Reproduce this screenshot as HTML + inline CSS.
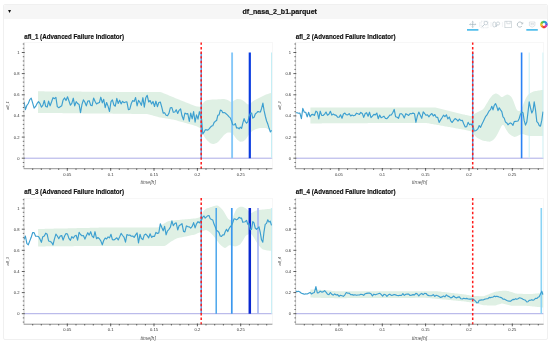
<!DOCTYPE html>
<html><head><meta charset="utf-8"><title>df_nasa_2_b1.parquet</title>
<style>
html,body{margin:0;padding:0;background:#fff;}
body{width:550px;height:345px;overflow:hidden;position:relative;font-family:"Liberation Sans",Arial,sans-serif;}
.card{position:absolute;left:3.2px;top:3.8px;width:544.6px;height:336.4px;border:0.6px solid #f0f0f0;border-radius:2px;box-sizing:border-box;background:#fff;}
.hdr{position:absolute;left:0;top:0;right:0;height:14.4px;background:#f6f6f6;border-radius:2px 2px 0 0;}
svg{position:absolute;left:0;top:0;}
</style></head><body>
<div class="card"><div class="hdr"></div></div>
<svg width="550" height="345" viewBox="0 0 550 345">
<text x="7" y="13.2" font-family="Liberation Sans, Arial, sans-serif" font-size="5.2" fill="#111">&#9660;</text>
<text x="279.7" y="13.6" text-anchor="middle" font-family="Liberation Sans, Arial, sans-serif" font-weight="bold" font-size="7.05" fill="#111" stroke="#111" stroke-width="0.2">df_nasa_2_b1.parquet</text>
<g stroke="#93a7b3" stroke-width="0.6" fill="none"><path d="M469.8 24.4H475.6M472.7 21.5V27.3"/><path d="M471.8 22.2L472.7 21.3L473.6 22.2M471.8 26.6L472.7 27.5L473.6 26.6M470.5 23.5L469.6 24.4L470.5 25.3M474.9 23.5L475.8 24.4L474.9 25.3" stroke-width="0.5"/></g>
<g stroke="#a9b8c1" stroke-width="0.55" fill="none"><rect x="481" y="21.2" width="7" height="6.6" stroke-dasharray="0.9 0.7" stroke-width="0.35"/><circle cx="485.8" cy="23.1" r="1.8"/><path d="M484.5 24.4L482 26.9" stroke-width="0.8"/></g>
<g stroke="#a9b8c1" stroke-width="0.55" fill="none"><rect x="492.9" y="22" width="2.8" height="5" rx="1.4"/><circle cx="498" cy="23.5" r="1.6"/><path d="M497 24.8L495.9 27" stroke-width="0.8"/></g>
<g stroke="#bcc6cc" stroke-width="0.6" fill="none"><rect x="504.9" y="21.2" width="6.4" height="6.5"/><path d="M506.8 21.2V23.7H510.2V21.2" stroke-width="0.5"/></g>
<g stroke="#aab6bd" stroke-width="0.8" fill="none"><path d="M522.4 23.9A2.6 2.6 0 1 0 521.9 26.2"/><path d="M522.8 22.1V24.0H521.0" stroke-width="0.5"/></g>
<g stroke="#c0c9cf" stroke-width="0.5" fill="none"><path d="M529.4 22H534.9V25.6L532.15 27.2L529.4 25.6Z"/><rect x="531" y="23.2" width="2.3" height="1.7" stroke-width="0.45"/></g>
<path d="M542.8 22.09A2.65 2.65 0 0 1 545.0 22.09" stroke="#27b8a2" stroke-width="2.3" fill="none"/>
<path d="M544.83 22.02A2.65 2.65 0 0 1 546.38 23.57" stroke="#2490e3" stroke-width="2.3" fill="none"/>
<path d="M546.31 23.4A2.65 2.65 0 0 1 546.31 25.6" stroke="#5a55d8" stroke-width="2.3" fill="none"/>
<path d="M546.38 25.43A2.65 2.65 0 0 1 544.83 26.98" stroke="#e0309c" stroke-width="2.3" fill="none"/>
<path d="M545.0 26.91A2.65 2.65 0 0 1 542.8 26.91" stroke="#ea3338" stroke-width="2.3" fill="none"/>
<path d="M542.97 26.98A2.65 2.65 0 0 1 541.42 25.43" stroke="#f47e20" stroke-width="2.3" fill="none"/>
<path d="M541.49 25.6A2.65 2.65 0 0 1 541.49 23.4" stroke="#f5c71f" stroke-width="2.3" fill="none"/>
<path d="M541.42 23.57A2.65 2.65 0 0 1 542.97 22.02" stroke="#6cc233" stroke-width="2.3" fill="none"/>
<rect x="467" y="29.2" width="11.4" height="1.4" fill="#29aee6"/>
<rect x="526.3" y="29.2" width="11.5" height="1.4" fill="#29aee6"/>
<line x1="479.5" x2="479.5" y1="22" y2="27" stroke="#e2e7ea" stroke-width="0.5"/>
<line x1="491.0" x2="491.0" y1="22" y2="27" stroke="#e2e7ea" stroke-width="0.5"/>
<line x1="502.4" x2="502.4" y1="22" y2="27" stroke="#e2e7ea" stroke-width="0.5"/>
<g>
<rect x="24" y="42.6" width="248.4" height="126.1" fill="#fff" stroke="#ececec" stroke-width="0.4"/>
<clipPath id="c1"><rect x="24" y="42.6" width="248.4" height="126.1"/></clipPath>
<g clip-path="url(#c1)">
<path d="M38 91.3 L39 91.3 L40 91.3 L41 91.3 L42 91.3 L43 91.3 L44 91.3 L45 91.4 L46 91.4 L47 91.4 L48 91.4 L49 91.4 L50 91.4 L51 91.4 L52 91.4 L53 91.4 L54 91.4 L55 91.4 L56 91.4 L57 91.5 L58 91.5 L59 91.5 L60 91.5 L61 91.5 L62 91.5 L63 91.5 L64 91.5 L65 91.5 L66 91.5 L67 91.5 L68 91.5 L69 91.5 L70 91.6 L71 91.6 L72 91.6 L73 91.6 L74 91.6 L75 91.6 L76 91.6 L77 91.6 L78 91.6 L79 91.6 L80 91.6 L81 91.6 L82 91.7 L83 91.7 L84 91.7 L85 91.7 L86 91.7 L87 91.7 L88 91.7 L89 91.7 L90 91.7 L91 91.7 L92 91.7 L93 91.7 L94 91.8 L95 91.8 L96 91.8 L97 91.8 L98 91.8 L99 91.8 L100 91.8 L101 91.8 L102 91.8 L103 91.8 L104 91.8 L105 91.8 L106 91.8 L107 91.8 L108 91.8 L109 91.8 L110 91.8 L111 91.8 L112 91.8 L113 91.8 L114 91.8 L115 91.8 L116 91.9 L117 91.9 L118 91.9 L119 91.9 L120 91.9 L121 91.9 L122 91.9 L123 91.9 L124 91.9 L125 91.9 L126 91.9 L127 91.9 L128 91.9 L129 91.9 L130 91.9 L131 91.9 L132 91.9 L133 91.9 L134 91.9 L135 91.9 L136 91.9 L137 91.9 L138 91.9 L139 91.9 L140 91.9 L141 91.9 L142 91.9 L143 91.9 L144 91.9 L145 91.9 L146 92 L147 92 L148 92 L149 92 L150 92 L151 92 L152 92 L153 92 L154 92 L155 92 L156 92 L157 92 L158 92 L159 92 L160 92 L161 92.2 L162 92.5 L163 93 L164 93.4 L165 93.8 L166 94.2 L167 94.6 L168 95 L169 95.5 L170 95.9 L171 96.3 L172 96.7 L173 97.1 L174 97.5 L175 98 L176 98.4 L177 98.8 L178 99.2 L179 99.6 L180 100 L181 100.4 L182 100.8 L183 101.2 L184 101.6 L185 102 L186 102.4 L187 102.8 L188 103.2 L189 103.6 L190 104 L191 104.4 L192 104.8 L193 105.2 L194 105.6 L195 105.9 L196 106.2 L197 106.4 L198 106.6 L199 106.8 L200 106.8 L201 106 L202 104.6 L203 103.2 L204 102.1 L205 101.2 L206 100.5 L207 100.2 L208 100 L209 99.9 L210 99.8 L211 99.7 L212 99.6 L213 99.5 L214 99.5 L215 99.4 L216 99.4 L217 99.4 L218 99.3 L219 99.2 L220 99.2 L221 99.2 L222 99.1 L223 99.1 L224 99.1 L225 99.2 L226 99.5 L227 99.8 L228 100.3 L229 100.8 L230 101.4 L231 101.9 L232 102 L233 101.4 L234 100.6 L235 99.9 L236 99.4 L237 99.1 L238 99.1 L239 99.2 L240 99.2 L241 99.4 L242 99.9 L243 100.6 L244 101.2 L245 102 L246 102.9 L247 103.9 L248 104.4 L249 104.3 L250 103.7 L251 102.9 L252 102 L253 101.2 L254 100.6 L255 100.1 L256 99.6 L257 99.1 L258 98.6 L259 98.1 L260 97.6 L261 97.1 L262 96.6 L263 96 L264 95.5 L265 95 L266 94.6 L267 94.3 L268 93.9 L269 93.6 L270 93.2 L271 92.9 L272 92.7 L272 133 L271 132.2 L270 131.1 L269 130.1 L268 129.3 L267 128.5 L266 128.1 L265 128 L264 128 L263 128 L262 128 L261 128 L260 128 L259 128.2 L258 128.5 L257 128.7 L256 129 L255 129.4 L254 129.9 L253 130.6 L252 131.3 L251 132.2 L250 133.2 L249 134.5 L248 135.9 L247 137.5 L246 138.9 L245 140 L244 140.8 L243 141.4 L242 141.6 L241 141.8 L240 141.7 L239 141.1 L238 140.2 L237 139.4 L236 138.3 L235 137 L234 135.5 L233 134.2 L232 133.4 L231 132.8 L230 132.5 L229 132.4 L228 132.5 L227 132.8 L226 133.5 L225 134.2 L224 135.1 L223 136.2 L222 137.4 L221 138.6 L220 139.8 L219 140.9 L218 141.9 L217 142.8 L216 143.3 L215 143.6 L214 143.9 L213 144 L212 143.8 L211 143.4 L210 142.9 L209 142.1 L208 141.2 L207 140.3 L206 139.1 L205 137.7 L204 136.1 L203 134.2 L202 131.9 L201 129.6 L200 128.1 L199 127.4 L198 127 L197 126.5 L196 126.1 L195 125.7 L194 125.4 L193 125.1 L192 124.8 L191 124.6 L190 124.3 L189 124 L188 123.7 L187 123.4 L186 123.1 L185 122.9 L184 122.6 L183 122.3 L182 122 L181 121.7 L180 121.4 L179 121.2 L178 120.9 L177 120.6 L176 120.3 L175 120 L174 119.8 L173 119.6 L172 119.5 L171 119.3 L170 119.1 L169 119 L168 118.8 L167 118.6 L166 118.5 L165 118.3 L164 118.1 L163 118 L162 117.8 L161 117.6 L160 117.4 L159 117.2 L158 116.9 L157 116.6 L156 116.4 L155 116.1 L154 115.9 L153 115.6 L152 115.3 L151 115.1 L150 114.8 L149 114.6 L148 114.3 L147 114.1 L146 114 L145 114 L144 114 L143 114 L142 114 L141 113.9 L140 113.9 L139 113.9 L138 113.9 L137 113.9 L136 113.9 L135 113.9 L134 113.9 L133 113.9 L132 113.9 L131 113.8 L130 113.8 L129 113.8 L128 113.8 L127 113.8 L126 113.8 L125 113.8 L124 113.8 L123 113.8 L122 113.7 L121 113.7 L120 113.7 L119 113.7 L118 113.7 L117 113.7 L116 113.7 L115 113.7 L114 113.7 L113 113.7 L112 113.6 L111 113.6 L110 113.6 L109 113.6 L108 113.6 L107 113.6 L106 113.6 L105 113.6 L104 113.6 L103 113.6 L102 113.5 L101 113.5 L100 113.5 L99 113.5 L98 113.5 L97 113.5 L96 113.5 L95 113.5 L94 113.5 L93 113.5 L92 113.4 L91 113.4 L90 113.4 L89 113.4 L88 113.4 L87 113.4 L86 113.4 L85 113.4 L84 113.4 L83 113.4 L82 113.3 L81 113.3 L80 113.3 L79 113.3 L78 113.3 L77 113.3 L76 113.3 L75 113.3 L74 113.3 L73 113.3 L72 113.2 L71 113.2 L70 113.2 L69 113.2 L68 113.2 L67 113.2 L66 113.2 L65 113.2 L64 113.2 L63 113.2 L62 113.1 L61 113.1 L60 113.1 L59 113.1 L58 113.1 L57 113.1 L56 113.1 L55 113.1 L54 113.1 L53 113.1 L52 113 L51 113 L50 113 L49 113 L48 113 L47 113 L46 113 L45 113 L44 113 L43 113 L42 112.9 L41 112.9 L40 112.9 L39 112.9 L38 112.9Z" fill="#dff0e4"/>
<line x1="24" x2="272.4" y1="158.2" y2="158.2" stroke="#9c9ce2" stroke-width="0.85"/>
<line x1="201.2" x2="201.2" y1="52.5" y2="158.2" stroke="#4a8fe0" stroke-width="1.3"/>
<line x1="232.1" x2="232.1" y1="52.5" y2="158.2" stroke="#86c8f8" stroke-width="1.9"/>
<line x1="249.8" x2="249.8" y1="52.5" y2="158.2" stroke="#0a3ce0" stroke-width="2.2"/>
<line x1="271.6" x2="271.6" y1="52.5" y2="158.2" stroke="#c5eef5" stroke-width="1.2"/>
<path d="M24 101.8 L25.4 109.6 L26.9 105.3 L28.3 103.5 L29.8 99.6 L31.2 98.2 L32.7 103.2 L34.1 108.2 L35.6 106.4 L37 103.7 L38.5 101.6 L39.9 103.4 L41.4 107.1 L42.8 105.4 L44.3 100.5 L45.7 106.4 L47.2 107.1 L48.6 101.1 L50.1 105.8 L51.5 102 L53 97.6 L54.4 98.7 L55.9 97.3 L57.3 106.6 L58.8 107.7 L60.2 106.8 L61.7 105.8 L63.1 100 L64.6 97.9 L66 100.6 L67.5 96.8 L68.9 100.8 L70.4 105.2 L71.8 103.4 L73.3 98.2 L74.7 105.9 L76.2 101.7 L77.6 103.5 L79.1 104.5 L80.5 112.7 L82 104.3 L83.4 99.9 L84.9 102.2 L86.3 105.9 L87.8 101 L89.2 100.7 L90.7 105.2 L92.1 105.7 L93.6 98 L95 101.2 L96.5 104 L97.9 103.1 L99.4 102.5 L100.8 97.2 L102.3 102.9 L103.7 99.3 L105.2 107.6 L106.6 102.5 L108.1 106.4 L109.5 111.5 L111 101.6 L112.4 99.9 L113.9 105 L115.3 106.2 L116.8 98.4 L118.2 103.5 L119.7 100.2 L121.1 103.9 L122.6 101.3 L124 102.7 L125.5 102 L126.9 101.9 L128.4 109.7 L129.8 109.2 L131.3 103.5 L132.7 100.6 L134.2 101.4 L135.6 97.5 L137.1 105.9 L138.5 100.3 L140 102.4 L141.4 105.3 L142.9 97.7 L144.3 107.2 L145.8 97.7 L147.2 95.3 L148.7 102 L150.1 100.5 L151.6 104 L153 101.4 L154.5 106.5 L155.9 101.2 L157.4 106.7 L158.8 102.5 L160.3 102 L161.7 106.8 L163.2 113.2 L164.6 112.7 L166.1 115.2 L167.5 115.7 L169 113.1 L170.4 107.7 L171.9 107.6 L173.3 112.3 L174.8 112 L176.2 109.7 L177.7 113.5 L179.1 110.3 L180.6 108.9 L182 115.8 L183.5 119.8 L184.9 113 L186.4 113.9 L187.8 113.6 L189.3 121.5 L190.7 113.1 L192.2 118.8 L193.6 111.5 L195.1 122.1 L196.5 114.9 L198 119.1 L199.4 111.7 L201.6 119.3 L202.8 133.9 L204.1 132.1 L205.3 129.7 L206.6 129.9 L207.8 130.1 L209.1 128.9 L210.3 127.4 L211.6 126 L212.8 125.7 L214.1 122.5 L215.3 121.3 L216.6 120.5 L217.8 115.3 L219.1 114.9 L220.3 110.1 L221.6 110.5 L222.8 112.7 L224.1 112.5 L225.3 113.1 L226.6 114.2 L227.8 115.3 L229.1 116.9 L230.3 117.9 L231.6 121.3 L232.8 124.7 L234.1 125 L235.3 123.5 L236.6 128 L237.8 127.8 L239.1 128.8 L240.3 127.1 L241.6 128.4 L242.8 123.1 L244.1 118.6 L245.3 121.7 L246.6 123.2 L247.8 121.9 L249.1 116.4 L250.3 113.4 L251.6 113 L252.8 118.1 L254.1 117.3 L255.3 114 L256.6 112.8 L257.9 111.5 L259.1 111.9 L260.4 112 L261.6 108.4 L262.9 103.1 L264.1 110.7 L265.4 116.5 L266.6 121 L267.9 124.3 L269.1 128.3 L270.4 132 L271.6 130.4" fill="none" stroke="#3c9fd0" stroke-width="1.15" stroke-linejoin="round"/>
</g>
<line x1="201.2" x2="201.2" y1="42.4" y2="169.7" stroke="#ff1a1a" stroke-width="1.5" stroke-dasharray="2.4 2.2"/>
<g fill="none">
<path d="M24 42.6V168.7" stroke="#a0a0a0" stroke-width="0.5"/>
<path d="M23.7 168.7H272.4" stroke="#6a6a6a" stroke-width="0.7"/>
<path d="M21.8 158.2H24.7M21.8 137.1H24.7M21.8 115.9H24.7M21.8 94.8H24.7M21.8 73.6H24.7M21.8 52.5H24.7M67.3 168V170.8M110.7 168V170.8M154 168V170.8M197.4 168V170.8M240.7 168V170.8" stroke="#333" stroke-width="0.8"/>
<path d="M22.8 166.7H24.2M22.8 162.5H24.2M22.8 154H24.2M22.8 149.8H24.2M22.8 145.6H24.2M22.8 141.3H24.2M22.8 132.9H24.2M22.8 128.6H24.2M22.8 124.4H24.2M22.8 120.2H24.2M22.8 111.7H24.2M22.8 107.5H24.2M22.8 103.3H24.2M22.8 99H24.2M22.8 90.6H24.2M22.8 86.3H24.2M22.8 82.1H24.2M22.8 77.9H24.2M22.8 69.4H24.2M22.8 65.2H24.2M22.8 61H24.2M22.8 56.7H24.2M22.8 48.3H24.2M22.8 44H24.2M32.7 168.5V170M41.3 168.5V170M50 168.5V170M58.7 168.5V170M76 168.5V170M84.7 168.5V170M93.3 168.5V170M102 168.5V170M119.3 168.5V170M128 168.5V170M136.7 168.5V170M145.4 168.5V170M162.7 168.5V170M171.4 168.5V170M180 168.5V170M188.7 168.5V170M206 168.5V170M214.7 168.5V170M223.4 168.5V170M232 168.5V170M249.4 168.5V170M258 168.5V170M266.7 168.5V170" stroke="#333" stroke-width="0.7"/>
</g>
<g font-family="Liberation Sans, Arial, sans-serif" font-size="4.1" fill="#333">
<text x="19.5" y="159.7" text-anchor="end">0</text>
<text x="19.5" y="138.5" text-anchor="end">0.2</text>
<text x="19.5" y="117.4" text-anchor="end">0.4</text>
<text x="19.5" y="96.3" text-anchor="end">0.6</text>
<text x="19.5" y="75.1" text-anchor="end">0.8</text>
<text x="19.5" y="54" text-anchor="end">1</text>
<text x="67.3" y="175.9" text-anchor="middle">0.05</text>
<text x="110.7" y="175.9" text-anchor="middle">0.1</text>
<text x="154" y="175.9" text-anchor="middle">0.15</text>
<text x="197.4" y="175.9" text-anchor="middle">0.2</text>
<text x="240.7" y="175.9" text-anchor="middle">0.25</text>
</g>
<text x="148.2" y="184.1" text-anchor="middle" font-family="Liberation Sans, Arial, sans-serif" font-style="italic" font-size="5.1" fill="#555">time[h]</text>
<text transform="translate(9.4 105.6) rotate(-90)" text-anchor="middle" font-family="Liberation Sans, Arial, sans-serif" font-style="italic" font-size="3.9" fill="#555">afl_1</text>
<text x="24.2" y="38.7" font-family="Liberation Sans, Arial, sans-serif" font-weight="bold" font-size="6.45" textLength="99.8" lengthAdjust="spacingAndGlyphs" fill="#111" stroke="#111" stroke-width="0.16">afl_1 (Advanced Failure Indicator)</text>
</g>
<g>
<rect x="295.6" y="42.6" width="248" height="126.1" fill="#fff" stroke="#ececec" stroke-width="0.4"/>
<clipPath id="c2"><rect x="295.6" y="42.6" width="248" height="126.1"/></clipPath>
<g clip-path="url(#c2)">
<path d="M310.4 107.4 L311.4 107.4 L312.4 107.4 L313.4 107.4 L314.4 107.4 L315.4 107.4 L316.4 107.4 L317.4 107.4 L318.4 107.4 L319.4 107.4 L320.4 107.4 L321.4 107.4 L322.4 107.4 L323.4 107.4 L324.4 107.4 L325.4 107.4 L326.4 107.4 L327.4 107.4 L328.4 107.4 L329.4 107.4 L330.4 107.4 L331.4 107.4 L332.4 107.4 L333.4 107.4 L334.4 107.4 L335.4 107.4 L336.4 107.4 L337.4 107.4 L338.4 107.4 L339.4 107.4 L340.4 107.4 L341.4 107.4 L342.4 107.4 L343.4 107.4 L344.4 107.4 L345.4 107.4 L346.4 107.4 L347.4 107.4 L348.4 107.4 L349.4 107.4 L350.4 107.4 L351.4 107.4 L352.4 107.4 L353.4 107.4 L354.4 107.4 L355.4 107.4 L356.4 107.4 L357.4 107.4 L358.4 107.4 L359.4 107.4 L360.4 107.4 L361.4 107.4 L362.4 107.4 L363.4 107.4 L364.4 107.4 L365.4 107.4 L366.4 107.4 L367.4 107.4 L368.4 107.4 L369.4 107.4 L370.4 107.4 L371.4 107.4 L372.4 107.4 L373.4 107.4 L374.4 107.4 L375.4 107.4 L376.4 107.4 L377.4 107.4 L378.4 107.4 L379.4 107.4 L380.4 107.4 L381.4 107.4 L382.4 107.4 L383.4 107.4 L384.4 107.4 L385.4 107.4 L386.4 107.4 L387.4 107.4 L388.4 107.4 L389.4 107.4 L390.4 107.4 L391.4 107.4 L392.4 107.4 L393.4 107.4 L394.4 107.4 L395.4 107.4 L396.4 107.4 L397.4 107.4 L398.4 107.4 L399.4 107.4 L400.4 107.4 L401.4 107.4 L402.4 107.4 L403.4 107.4 L404.4 107.4 L405.4 107.4 L406.4 107.4 L407.4 107.4 L408.4 107.4 L409.4 107.4 L410.4 107.4 L411.4 107.4 L412.4 107.4 L413.4 107.4 L414.4 107.4 L415.4 107.4 L416.4 107.4 L417.4 107.4 L418.4 107.4 L419.4 107.4 L420.4 107.4 L421.4 107.4 L422.4 107.4 L423.4 107.4 L424.4 107.4 L425.4 107.4 L426.4 107.4 L427.4 107.4 L428.4 107.4 L429.4 107.4 L430.4 107.4 L431.4 107.4 L432.4 107.4 L433.4 107.4 L434.4 107.4 L435.4 107.5 L436.4 107.7 L437.4 107.9 L438.4 108.2 L439.4 108.4 L440.4 108.7 L441.4 108.9 L442.4 109.2 L443.4 109.4 L444.4 109.7 L445.4 109.9 L446.4 110.2 L447.4 110.4 L448.4 110.7 L449.4 110.9 L450.4 111.2 L451.4 111.4 L452.4 111.7 L453.4 111.9 L454.4 112.2 L455.4 112.4 L456.4 112.7 L457.4 112.9 L458.4 113.2 L459.4 113.4 L460.4 113.7 L461.4 113.9 L462.4 114.2 L463.4 114.4 L464.4 114.6 L465.4 114.9 L466.4 115.1 L467.4 115.3 L468.4 115.6 L469.4 115.8 L470.4 116 L471.4 116.1 L472.4 115.7 L473.4 114.8 L474.4 113.9 L475.4 113.3 L476.4 112.8 L477.4 112.3 L478.4 111.8 L479.4 111.3 L480.4 110.8 L481.4 110.3 L482.4 109.7 L483.4 108.8 L484.4 107.4 L485.4 105.7 L486.4 104 L487.4 102.4 L488.4 100.7 L489.4 99.1 L490.4 97.7 L491.4 96.4 L492.4 95.3 L493.4 94.4 L494.4 93.9 L495.4 93.6 L496.4 93.6 L497.4 93.9 L498.4 94.5 L499.4 95.3 L500.4 96.3 L501.4 97.1 L502.4 97.1 L503.4 96.4 L504.4 95.7 L505.4 95.2 L506.4 94.8 L507.4 94.6 L508.4 94.8 L509.4 95.3 L510.4 96 L511.4 97 L512.4 98.7 L513.4 101 L514.4 103.8 L515.4 106.6 L516.4 109.1 L517.4 110.6 L518.4 111.1 L519.4 111 L520.4 110.4 L521.4 109.1 L522.4 106.7 L523.4 103.9 L524.4 101.4 L525.4 99.2 L526.4 97.3 L527.4 95.7 L528.4 94.6 L529.4 93.7 L530.4 93 L531.4 92.4 L532.4 92 L533.4 91.6 L534.4 91.3 L535.4 91.1 L536.4 90.9 L537.4 90.8 L538.4 90.6 L539.4 90.4 L540.4 90.2 L541.4 90.1 L542.4 89.9 L543.4 89.8 L543.4 136.1 L542.4 136.1 L541.4 136.1 L540.4 136.1 L539.4 136.1 L538.4 136.1 L537.4 136.1 L536.4 136.1 L535.4 136.1 L534.4 136.1 L533.4 136.1 L532.4 136.1 L531.4 136.1 L530.4 136.1 L529.4 136 L528.4 135.8 L527.4 135.5 L526.4 135.2 L525.4 134.9 L524.4 134.6 L523.4 134.3 L522.4 134.1 L521.4 134 L520.4 134.4 L519.4 134.9 L518.4 135.4 L517.4 135.9 L516.4 136.4 L515.4 136.8 L514.4 137 L513.4 136.6 L512.4 136 L511.4 135.4 L510.4 134.8 L509.4 134.1 L508.4 133.1 L507.4 131.6 L506.4 130 L505.4 128.2 L504.4 126.3 L503.4 124.9 L502.4 124.9 L501.4 126.3 L500.4 128.2 L499.4 130.3 L498.4 132.3 L497.4 134.3 L496.4 136 L495.4 137.5 L494.4 138.8 L493.4 139.8 L492.4 140.5 L491.4 141.1 L490.4 141.6 L489.4 141.7 L488.4 141.6 L487.4 141.4 L486.4 141.3 L485.4 141.1 L484.4 140.9 L483.4 140.7 L482.4 140.4 L481.4 139.9 L480.4 139.4 L479.4 139 L478.4 138.5 L477.4 138 L476.4 137.3 L475.4 136.3 L474.4 135 L473.4 133.5 L472.4 132.3 L471.4 131.5 L470.4 131.1 L469.4 130.9 L468.4 130.7 L467.4 130.4 L466.4 130.2 L465.4 130 L464.4 129.8 L463.4 129.6 L462.4 129.4 L461.4 129.3 L460.4 129.1 L459.4 128.9 L458.4 128.7 L457.4 128.5 L456.4 128.4 L455.4 128.2 L454.4 128 L453.4 127.8 L452.4 127.6 L451.4 127.5 L450.4 127.3 L449.4 127.1 L448.4 126.9 L447.4 126.7 L446.4 126.6 L445.4 126.4 L444.4 126.2 L443.4 126 L442.4 125.8 L441.4 125.7 L440.4 125.5 L439.4 125.3 L438.4 125.1 L437.4 124.9 L436.4 124.8 L435.4 124.6 L434.4 124.4 L433.4 124.2 L432.4 124 L431.4 123.9 L430.4 123.7 L429.4 123.5 L428.4 123.3 L427.4 123.2 L426.4 123 L425.4 122.9 L424.4 122.9 L423.4 122.9 L422.4 122.9 L421.4 122.9 L420.4 122.9 L419.4 122.9 L418.4 122.9 L417.4 122.9 L416.4 122.9 L415.4 122.9 L414.4 123 L413.4 123 L412.4 123 L411.4 123 L410.4 123 L409.4 123 L408.4 123 L407.4 123 L406.4 123 L405.4 123 L404.4 123 L403.4 123 L402.4 123 L401.4 123 L400.4 123 L399.4 123 L398.4 123 L397.4 123 L396.4 123 L395.4 123 L394.4 123 L393.4 123 L392.4 123 L391.4 123 L390.4 123.1 L389.4 123.1 L388.4 123.1 L387.4 123.1 L386.4 123.1 L385.4 123.1 L384.4 123.1 L383.4 123.1 L382.4 123.1 L381.4 123.1 L380.4 123.1 L379.4 123.1 L378.4 123.1 L377.4 123.1 L376.4 123.1 L375.4 123.1 L374.4 123.1 L373.4 123.1 L372.4 123.1 L371.4 123.1 L370.4 123.1 L369.4 123.1 L368.4 123.1 L367.4 123.2 L366.4 123.2 L365.4 123.2 L364.4 123.2 L363.4 123.2 L362.4 123.2 L361.4 123.2 L360.4 123.2 L359.4 123.2 L358.4 123.2 L357.4 123.2 L356.4 123.2 L355.4 123.2 L354.4 123.2 L353.4 123.2 L352.4 123.2 L351.4 123.2 L350.4 123.2 L349.4 123.2 L348.4 123.2 L347.4 123.2 L346.4 123.2 L345.4 123.2 L344.4 123.3 L343.4 123.3 L342.4 123.3 L341.4 123.3 L340.4 123.3 L339.4 123.3 L338.4 123.3 L337.4 123.3 L336.4 123.3 L335.4 123.3 L334.4 123.3 L333.4 123.3 L332.4 123.3 L331.4 123.3 L330.4 123.3 L329.4 123.3 L328.4 123.3 L327.4 123.3 L326.4 123.3 L325.4 123.3 L324.4 123.3 L323.4 123.3 L322.4 123.3 L321.4 123.4 L320.4 123.4 L319.4 123.4 L318.4 123.4 L317.4 123.4 L316.4 123.4 L315.4 123.4 L314.4 123.4 L313.4 123.4 L312.4 123.4 L311.4 123.4 L310.4 123.4Z" fill="#dff0e4"/>
<line x1="295.6" x2="543.6" y1="158.2" y2="158.2" stroke="#9c9ce2" stroke-width="0.85"/>
<line x1="472.7" x2="472.7" y1="52.5" y2="158.2" stroke="#4a8fe0" stroke-width="1.3"/>
<line x1="521.6" x2="521.6" y1="52.5" y2="158.2" stroke="#2a82f5" stroke-width="1.6"/>
<line x1="529.2" x2="529.2" y1="52.5" y2="158.2" stroke="#c8f0f5" stroke-width="1.0"/>
<line x1="543" x2="543" y1="52.5" y2="158.2" stroke="#c8f0f5" stroke-width="1.0"/>
<path d="M295.6 112.8 L297.1 112.7 L298.5 113.2 L299.9 113.1 L301.4 118.6 L302.8 108.4 L304.3 112.2 L305.7 112.3 L307.2 116.8 L308.6 112.3 L310.1 116.8 L311.5 114.6 L313 114.4 L314.4 115.5 L315.9 111.1 L317.3 112.2 L318.8 118.9 L320.2 111.2 L321.7 115.4 L323.1 115.5 L324.6 114.1 L326 112 L327.5 115.2 L328.9 114.2 L330.4 111.3 L331.8 115.1 L333.3 114 L334.7 114.9 L336.2 115.4 L337.6 117.1 L339.1 117.3 L340.5 114.8 L342 118.2 L343.4 114 L344.9 113 L346.3 114.8 L347.8 114.9 L349.2 113.6 L350.7 116 L352.1 115.1 L353.6 115.8 L355 115.3 L356.5 113.2 L357.9 113.8 L359.4 114.4 L360.8 112.4 L362.3 113.4 L363.7 117.4 L365.2 113.5 L366.6 112.7 L368.1 116.2 L369.5 112.2 L371 117.6 L372.4 116.2 L373.9 114.4 L375.3 114.9 L376.8 113 L378.2 118.7 L379.7 115 L381.1 117.8 L382.6 117.1 L384 116.2 L385.5 118.5 L386.9 118.6 L388.4 117 L389.8 115.1 L391.3 115 L392.7 112.7 L394.2 109.4 L395.6 116.7 L397.1 117.3 L398.5 118.3 L400 113.8 L401.4 113.7 L402.9 115.2 L404.3 117.9 L405.8 113.7 L407.2 114.5 L408.7 115.4 L410.1 113.5 L411.6 113.8 L413 113.1 L414.5 113.7 L415.9 122.3 L417.4 115.9 L418.8 112.1 L420.3 115.3 L421.7 118.3 L423.2 111.9 L424.6 113.5 L426.1 115.3 L427.5 114.8 L429 116.8 L430.4 114.7 L431.9 113.5 L433.3 116 L434.8 114.5 L436.2 117.2 L437.7 117.4 L439.1 122.4 L440.6 119.9 L442 117.8 L443.5 115.2 L444.9 116.6 L446.4 114.8 L447.8 118.9 L449.3 117 L450.7 120.8 L452.2 122.5 L453.6 120.4 L455.1 118.5 L456.5 119.4 L458 121.1 L459.4 119.2 L460.9 120.6 L462.3 120.3 L463.8 124 L465.2 127 L466.7 126.6 L468.1 122.4 L469.6 124.7 L471 123.9 L473 126.5 L474.2 131 L475.5 130.8 L476.8 130 L478 128.6 L479.2 125.5 L480.5 127.4 L481.8 124.5 L483 122.1 L484.2 119.4 L485.5 116.7 L486.8 115.2 L488 113 L489.2 110.8 L490.5 109.6 L491.8 106.3 L493 109.9 L494.2 105.5 L495.5 103.6 L496.8 106.6 L498 110.6 L499.2 107.8 L500.5 109.9 L501.8 111.6 L503 116.9 L504.2 118.1 L505.5 122.1 L506.8 122.9 L508 124.8 L509.2 123.6 L510.5 122.9 L511.8 123.8 L513 125.3 L514.2 121.6 L515.5 121.4 L516.8 121.2 L518 121 L519.2 118.5 L520.5 114.2 L521.8 112.1 L523 112.7 L524.2 120.7 L525.5 125.1 L526.8 122.1 L528 112.1 L529.2 101.9 L530.5 107.9 L531.8 113 L533 110.6 L534.2 101.8 L535.5 109.9 L536.8 121.6 L538 122.8 L539.2 125.6 L540.5 126.1 L541.8 120.2 L543 111.6" fill="none" stroke="#3c9fd0" stroke-width="1.15" stroke-linejoin="round"/>
</g>
<line x1="472.7" x2="472.7" y1="42.4" y2="169.7" stroke="#ff1a1a" stroke-width="1.5" stroke-dasharray="2.4 2.2"/>
<g fill="none">
<path d="M295.6 42.6V168.7" stroke="#a0a0a0" stroke-width="0.5"/>
<path d="M295.3 168.7H543.6" stroke="#6a6a6a" stroke-width="0.7"/>
<path d="M293.4 158.2H296.3M293.4 137.1H296.3M293.4 115.9H296.3M293.4 94.8H296.3M293.4 73.6H296.3M293.4 52.5H296.3M338.9 168V170.8M382.3 168V170.8M425.6 168V170.8M469 168V170.8M512.3 168V170.8" stroke="#333" stroke-width="0.8"/>
<path d="M294.4 166.7H295.8M294.4 162.5H295.8M294.4 154H295.8M294.4 149.8H295.8M294.4 145.6H295.8M294.4 141.3H295.8M294.4 132.9H295.8M294.4 128.6H295.8M294.4 124.4H295.8M294.4 120.2H295.8M294.4 111.7H295.8M294.4 107.5H295.8M294.4 103.3H295.8M294.4 99H295.8M294.4 90.6H295.8M294.4 86.3H295.8M294.4 82.1H295.8M294.4 77.9H295.8M294.4 69.4H295.8M294.4 65.2H295.8M294.4 61H295.8M294.4 56.7H295.8M294.4 48.3H295.8M294.4 44H295.8M304.3 168.5V170M312.9 168.5V170M321.6 168.5V170M330.3 168.5V170M347.6 168.5V170M356.3 168.5V170M364.9 168.5V170M373.6 168.5V170M390.9 168.5V170M399.6 168.5V170M408.3 168.5V170M417 168.5V170M434.3 168.5V170M443 168.5V170M451.6 168.5V170M460.3 168.5V170M477.6 168.5V170M486.3 168.5V170M495 168.5V170M503.6 168.5V170M521 168.5V170M529.6 168.5V170M538.3 168.5V170" stroke="#333" stroke-width="0.7"/>
</g>
<g font-family="Liberation Sans, Arial, sans-serif" font-size="4.1" fill="#333">
<text x="291.1" y="159.7" text-anchor="end">0</text>
<text x="291.1" y="138.5" text-anchor="end">0.2</text>
<text x="291.1" y="117.4" text-anchor="end">0.4</text>
<text x="291.1" y="96.3" text-anchor="end">0.6</text>
<text x="291.1" y="75.1" text-anchor="end">0.8</text>
<text x="291.1" y="54" text-anchor="end">1</text>
<text x="338.9" y="175.9" text-anchor="middle">0.05</text>
<text x="382.3" y="175.9" text-anchor="middle">0.1</text>
<text x="425.6" y="175.9" text-anchor="middle">0.15</text>
<text x="469" y="175.9" text-anchor="middle">0.2</text>
<text x="512.3" y="175.9" text-anchor="middle">0.25</text>
</g>
<text x="419.6" y="184.1" text-anchor="middle" font-family="Liberation Sans, Arial, sans-serif" font-style="italic" font-size="5.1" fill="#555">time[h]</text>
<text transform="translate(281 105.6) rotate(-90)" text-anchor="middle" font-family="Liberation Sans, Arial, sans-serif" font-style="italic" font-size="3.9" fill="#555">afl_2</text>
<text x="295.8" y="38.7" font-family="Liberation Sans, Arial, sans-serif" font-weight="bold" font-size="6.45" textLength="99.8" lengthAdjust="spacingAndGlyphs" fill="#111" stroke="#111" stroke-width="0.16">afl_2 (Advanced Failure Indicator)</text>
</g>
<g>
<rect x="24" y="198.2" width="248.4" height="126" fill="#fff" stroke="#ececec" stroke-width="0.4"/>
<clipPath id="c3"><rect x="24" y="198.2" width="248.4" height="126"/></clipPath>
<g clip-path="url(#c3)">
<path d="M38.1 229 L39.1 229 L40.1 229 L41.1 228.9 L42.1 228.9 L43.1 228.9 L44.1 228.9 L45.1 228.8 L46.1 228.8 L47.1 228.8 L48.1 228.8 L49.1 228.8 L50.1 228.7 L51.1 228.7 L52.1 228.7 L53.1 228.7 L54.1 228.6 L55.1 228.6 L56.1 228.6 L57.1 228.6 L58.1 228.6 L59.1 228.5 L60.1 228.5 L61.1 228.5 L62.1 228.5 L63.1 228.4 L64.1 228.4 L65.1 228.4 L66.1 228.4 L67.1 228.4 L68.1 228.3 L69.1 228.3 L70.1 228.3 L71.1 228.3 L72.1 228.2 L73.1 228.2 L74.1 228.2 L75.1 228.2 L76.1 228.2 L77.1 228.1 L78.1 228.1 L79.1 228.1 L80.1 228.1 L81.1 228 L82.1 228 L83.1 228 L84.1 228 L85.1 228 L86.1 227.9 L87.1 227.9 L88.1 227.9 L89.1 227.9 L90.1 227.8 L91.1 227.8 L92.1 227.8 L93.1 227.8 L94.1 227.8 L95.1 227.7 L96.1 227.7 L97.1 227.7 L98.1 227.7 L99.1 227.6 L100.1 227.6 L101.1 227.6 L102.1 227.6 L103.1 227.6 L104.1 227.5 L105.1 227.5 L106.1 227.5 L107.1 227.5 L108.1 227.4 L109.1 227.4 L110.1 227.4 L111.1 227.4 L112.1 227.4 L113.1 227.4 L114.1 227.4 L115.1 227.4 L116.1 227.4 L117.1 227.4 L118.1 227.4 L119.1 227.4 L120.1 227.4 L121.1 227.4 L122.1 227.4 L123.1 227.4 L124.1 227.4 L125.1 227.4 L126.1 227.4 L127.1 227.4 L128.1 227.4 L129.1 227.4 L130.1 227.4 L131.1 227.4 L132.1 227.4 L133.1 227.4 L134.1 227.4 L135.1 227.4 L136.1 227.4 L137.1 227.4 L138.1 227.4 L139.1 227.4 L140.1 227.4 L141.1 227.4 L142.1 227.4 L143.1 227.4 L144.1 227.4 L145.1 227.4 L146.1 227.4 L147.1 227.4 L148.1 227.4 L149.1 227.4 L150.1 227.4 L151.1 227.4 L152.1 227.4 L153.1 227.4 L154.1 227.4 L155.1 227.4 L156.1 227.4 L157.1 227.4 L158.1 227.3 L159.1 226.8 L160.1 226.1 L161.1 225.4 L162.1 224.7 L163.1 224 L164.1 223.4 L165.1 222.9 L166.1 222.3 L167.1 221.8 L168.1 221.3 L169.1 220.9 L170.1 220.8 L171.1 220.7 L172.1 220.6 L173.1 220.5 L174.1 220.4 L175.1 220.3 L176.1 220.2 L177.1 220.1 L178.1 220 L179.1 219.9 L180.1 219.8 L181.1 219.7 L182.1 219.6 L183.1 219.5 L184.1 219.4 L185.1 219.3 L186.1 219.2 L187.1 219.2 L188.1 219.1 L189.1 219 L190.1 218.9 L191.1 218.8 L192.1 218.7 L193.1 218.6 L194.1 218.5 L195.1 218.4 L196.1 218.2 L197.1 217.9 L198.1 217.7 L199.1 217.5 L200.1 217 L201.1 215.8 L202.1 213.9 L203.1 211.8 L204.1 210.3 L205.1 209.4 L206.1 208.8 L207.1 208.3 L208.1 208 L209.1 207.7 L210.1 207.3 L211.1 207 L212.1 206.7 L213.1 206.3 L214.1 206 L215.1 205.8 L216.1 205.6 L217.1 205.6 L218.1 205.8 L219.1 206.4 L220.1 207.2 L221.1 208.2 L222.1 209.3 L223.1 210.6 L224.1 212.1 L225.1 213.8 L226.1 215.6 L227.1 217.3 L228.1 218.8 L229.1 219.6 L230.1 220 L231.1 220 L232.1 219 L233.1 216.7 L234.1 214 L235.1 211.7 L236.1 209.8 L237.1 208.5 L238.1 207.7 L239.1 207.2 L240.1 206.8 L241.1 206.7 L242.1 206.8 L243.1 207 L244.1 207.4 L245.1 207.9 L246.1 208.5 L247.1 209.4 L248.1 210.4 L249.1 211.6 L250.1 212.6 L251.1 213.1 L252.1 212.7 L253.1 212.1 L254.1 211.5 L255.1 211 L256.1 210.6 L257.1 210.2 L258.1 210 L259.1 209.9 L260.1 209.8 L261.1 209.7 L262.1 209.6 L263.1 209.5 L264.1 209.4 L265.1 209.3 L266.1 209.2 L267.1 209.1 L268.1 209 L269.1 208.9 L270.1 208.8 L271.1 208.6 L272.1 208.6 L272.1 250.7 L271.1 250.7 L270.1 250.7 L269.1 250.7 L268.1 250.5 L267.1 250.4 L266.1 250.2 L265.1 250 L264.1 249.8 L263.1 249.6 L262.1 249 L261.1 248.1 L260.1 247 L259.1 245.8 L258.1 244.4 L257.1 242.9 L256.1 241.4 L255.1 239.7 L254.1 238 L253.1 236.5 L252.1 235.1 L251.1 234 L250.1 233.8 L249.1 234.1 L248.1 234.5 L247.1 235 L246.1 235.6 L245.1 236.8 L244.1 238.5 L243.1 240.2 L242.1 241.8 L241.1 243.2 L240.1 244.4 L239.1 245.1 L238.1 245.5 L237.1 245.9 L236.1 246.2 L235.1 246.4 L234.1 246.3 L233.1 246 L232.1 245.8 L231.1 245.5 L230.1 245.2 L229.1 245.3 L228.1 245.9 L227.1 246.7 L226.1 247.4 L225.1 247.9 L224.1 247.8 L223.1 247.1 L222.1 246.3 L221.1 245.6 L220.1 244.6 L219.1 243.4 L218.1 242.1 L217.1 240.8 L216.1 239.5 L215.1 238.1 L214.1 236.8 L213.1 235.6 L212.1 234.5 L211.1 233.6 L210.1 232.6 L209.1 231.8 L208.1 231.1 L207.1 230.4 L206.1 230.1 L205.1 230.2 L204.1 230.6 L203.1 231.1 L202.1 231.5 L201.1 231.9 L200.1 232.3 L199.1 232.7 L198.1 233.1 L197.1 233.6 L196.1 234 L195.1 234.4 L194.1 234.7 L193.1 234.9 L192.1 235.1 L191.1 235.3 L190.1 235.5 L189.1 235.7 L188.1 235.9 L187.1 236.2 L186.1 236.4 L185.1 236.6 L184.1 236.8 L183.1 237 L182.1 237.2 L181.1 237.4 L180.1 237.6 L179.1 237.8 L178.1 238 L177.1 238.3 L176.1 238.8 L175.1 239.3 L174.1 239.8 L173.1 240.4 L172.1 240.9 L171.1 241.5 L170.1 242.2 L169.1 243 L168.1 243.7 L167.1 244.5 L166.1 245.2 L165.1 245.7 L164.1 245.9 L163.1 245.9 L162.1 245.9 L161.1 245.9 L160.1 245.9 L159.1 245.9 L158.1 245.9 L157.1 245.9 L156.1 245.9 L155.1 245.9 L154.1 245.9 L153.1 245.9 L152.1 245.9 L151.1 245.9 L150.1 245.9 L149.1 245.9 L148.1 245.9 L147.1 245.9 L146.1 245.9 L145.1 245.9 L144.1 245.9 L143.1 245.9 L142.1 245.9 L141.1 245.9 L140.1 245.9 L139.1 245.9 L138.1 245.9 L137.1 245.9 L136.1 245.9 L135.1 245.9 L134.1 245.9 L133.1 245.9 L132.1 245.9 L131.1 245.9 L130.1 245.9 L129.1 245.9 L128.1 245.9 L127.1 245.9 L126.1 245.9 L125.1 245.9 L124.1 245.9 L123.1 245.9 L122.1 245.9 L121.1 245.9 L120.1 245.9 L119.1 245.9 L118.1 245.9 L117.1 245.9 L116.1 245.9 L115.1 245.9 L114.1 245.9 L113.1 245.9 L112.1 245.9 L111.1 245.9 L110.1 245.9 L109.1 245.9 L108.1 245.9 L107.1 245.9 L106.1 245.9 L105.1 245.9 L104.1 245.9 L103.1 245.9 L102.1 246 L101.1 246 L100.1 246 L99.1 246 L98.1 246 L97.1 246 L96.1 246 L95.1 246 L94.1 246 L93.1 246 L92.1 246 L91.1 246 L90.1 246 L89.1 246 L88.1 246.1 L87.1 246.1 L86.1 246.1 L85.1 246.1 L84.1 246.1 L83.1 246.1 L82.1 246.1 L81.1 246.1 L80.1 246.1 L79.1 246.1 L78.1 246.1 L77.1 246.1 L76.1 246.1 L75.1 246.1 L74.1 246.1 L73.1 246.2 L72.1 246.2 L71.1 246.2 L70.1 246.2 L69.1 246.2 L68.1 246.2 L67.1 246.2 L66.1 246.2 L65.1 246.2 L64.1 246.2 L63.1 246.2 L62.1 246.2 L61.1 246.2 L60.1 246.2 L59.1 246.3 L58.1 246.3 L57.1 246.3 L56.1 246.3 L55.1 246.3 L54.1 246.3 L53.1 246.3 L52.1 246.3 L51.1 246.3 L50.1 246.3 L49.1 246.3 L48.1 246.3 L47.1 246.3 L46.1 246.3 L45.1 246.4 L44.1 246.4 L43.1 246.4 L42.1 246.4 L41.1 246.4 L40.1 246.4 L39.1 246.4 L38.1 246.4Z" fill="#dff0e4"/>
<line x1="24" x2="272.4" y1="313.7" y2="313.7" stroke="#9c9ce2" stroke-width="0.85"/>
<line x1="201.2" x2="201.2" y1="208.1" y2="313.7" stroke="#4a8fe0" stroke-width="1.3"/>
<line x1="216.2" x2="216.2" y1="208.1" y2="313.7" stroke="#3fa0ea" stroke-width="1.4"/>
<line x1="231.8" x2="231.8" y1="208.1" y2="313.7" stroke="#3a98ee" stroke-width="1.7"/>
<line x1="249.8" x2="249.8" y1="208.1" y2="313.7" stroke="#0a28d0" stroke-width="2.5"/>
<line x1="258" x2="258" y1="208.1" y2="313.7" stroke="#a8b8f2" stroke-width="1.7"/>
<line x1="271.7" x2="271.7" y1="208.1" y2="313.7" stroke="#c5eef5" stroke-width="1.2"/>
<path d="M24 239.6 L25.4 236 L26.9 243.6 L28.3 244.8 L29.8 240.9 L31.2 237.3 L32.7 232.5 L34.1 232.6 L35.6 236.2 L37 236.3 L38.5 236.5 L39.9 238.9 L41.4 242.3 L42.8 236.7 L44.3 235.9 L45.7 233.2 L47.2 234.3 L48.6 241 L50.1 241.4 L51.5 242.2 L53 244.9 L54.4 239.2 L55.9 234.1 L57.3 236 L58.8 238.7 L60.2 236.1 L61.7 235.5 L63.1 240.1 L64.6 236 L66 233.5 L67.5 234.1 L68.9 238.4 L70.4 240.4 L71.8 236.6 L73.3 238.1 L74.7 236 L76.2 235.3 L77.6 240.1 L79.1 232.3 L80.5 234.5 L82 235.8 L83.4 235.6 L84.9 239.1 L86.3 235.8 L87.8 232.7 L89.2 235.1 L90.7 231.7 L92.1 236.1 L93.6 237.6 L95 231.7 L96.5 238.7 L97.9 237.5 L99.4 238.8 L100.8 240.9 L102.3 244.8 L103.7 240.5 L105.2 238 L106.6 239 L108.1 236.9 L109.5 237.9 L111 234.3 L112.4 239.7 L113.9 239.9 L115.3 239 L116.8 237.8 L118.2 239.9 L119.7 236.7 L121.1 233.4 L122.6 235.5 L124 237.2 L125.5 242.1 L126.9 234.6 L128.4 235.3 L129.8 235 L131.3 236.2 L132.7 236 L134.2 237.4 L135.6 234.9 L137.1 232.9 L138.5 242.9 L140 234.3 L141.4 238.6 L142.9 239.6 L144.3 234.9 L145.8 234.1 L147.2 235.6 L148.7 237.9 L150.1 233.8 L151.6 237.4 L153 236.2 L154.5 236.4 L155.9 232.4 L157.4 233.4 L158.8 232.9 L160.3 223.8 L161.7 227.3 L163.2 230.8 L164.6 226.4 L166.1 234.8 L167.5 230.8 L169 229.3 L170.4 227.1 L171.9 220.8 L173.3 225.6 L174.8 223.5 L176.2 222.9 L177.7 230 L179.1 225.8 L180.6 224.8 L182 223.7 L183.5 231.4 L184.9 231.9 L186.4 225.9 L187.8 226.6 L189.3 226.9 L190.7 228.2 L192.2 226.4 L193.6 222.6 L195.1 227.9 L196.5 223.8 L198 221.7 L199.4 222.8 L201.5 219.9 L202.8 217.1 L204 216 L205.2 218.1 L206.5 216.9 L207.8 215.7 L209 215.5 L210.2 218.6 L211.5 219.5 L212.8 220.1 L214 224.1 L215.2 226.7 L216.5 230.3 L217.8 231.2 L219 232.5 L220.2 236 L221.5 236.4 L222.8 234.8 L224 235 L225.2 231.8 L226.5 229.3 L227.8 231.6 L229 228.7 L230.2 226.9 L231.5 225.4 L232.8 222.5 L234 218.9 L235.2 219 L236.5 219.9 L237.8 219 L239 217.3 L240.2 218.1 L241.5 218 L242.8 222.3 L244 222 L245.2 221.7 L246.5 220.3 L247.8 224.3 L249 223.5 L250.2 229.6 L251.5 229.5 L252.8 221.6 L254 222.9 L255.2 228 L256.5 229.4 L257.8 228.2 L259 226.8 L260.2 232.2 L261.5 239.8 L262.8 242.2 L264 231.9 L265.2 224.4 L266.5 223.4 L267.8 219.8 L269 222.1 L270.2 221.1 L271.5 225.3" fill="none" stroke="#3c9fd0" stroke-width="1.15" stroke-linejoin="round"/>
</g>
<line x1="201.2" x2="201.2" y1="198" y2="325.2" stroke="#ff1a1a" stroke-width="1.5" stroke-dasharray="2.4 2.2"/>
<g fill="none">
<path d="M24 198.2V324.2" stroke="#a0a0a0" stroke-width="0.5"/>
<path d="M23.7 324.2H272.4" stroke="#6a6a6a" stroke-width="0.7"/>
<path d="M21.8 313.7H24.7M21.8 292.6H24.7M21.8 271.5H24.7M21.8 250.3H24.7M21.8 229.2H24.7M21.8 208.1H24.7M67.3 323.5V326.3M110.7 323.5V326.3M154 323.5V326.3M197.4 323.5V326.3M240.7 323.5V326.3" stroke="#333" stroke-width="0.8"/>
<path d="M22.8 322.1H24.2M22.8 317.9H24.2M22.8 309.5H24.2M22.8 305.3H24.2M22.8 301H24.2M22.8 296.8H24.2M22.8 288.4H24.2M22.8 284.1H24.2M22.8 279.9H24.2M22.8 275.7H24.2M22.8 267.2H24.2M22.8 263H24.2M22.8 258.8H24.2M22.8 254.6H24.2M22.8 246.1H24.2M22.8 241.9H24.2M22.8 237.7H24.2M22.8 233.4H24.2M22.8 225H24.2M22.8 220.8H24.2M22.8 216.5H24.2M22.8 212.3H24.2M22.8 203.9H24.2M22.8 199.7H24.2M32.7 324V325.5M41.3 324V325.5M50 324V325.5M58.7 324V325.5M76 324V325.5M84.7 324V325.5M93.3 324V325.5M102 324V325.5M119.3 324V325.5M128 324V325.5M136.7 324V325.5M145.4 324V325.5M162.7 324V325.5M171.4 324V325.5M180 324V325.5M188.7 324V325.5M206 324V325.5M214.7 324V325.5M223.4 324V325.5M232 324V325.5M249.4 324V325.5M258 324V325.5M266.7 324V325.5" stroke="#333" stroke-width="0.7"/>
</g>
<g font-family="Liberation Sans, Arial, sans-serif" font-size="4.1" fill="#333">
<text x="19.5" y="315.1" text-anchor="end">0</text>
<text x="19.5" y="294" text-anchor="end">0.2</text>
<text x="19.5" y="272.9" text-anchor="end">0.4</text>
<text x="19.5" y="251.8" text-anchor="end">0.6</text>
<text x="19.5" y="230.7" text-anchor="end">0.8</text>
<text x="19.5" y="209.5" text-anchor="end">1</text>
<text x="67.3" y="331.4" text-anchor="middle">0.05</text>
<text x="110.7" y="331.4" text-anchor="middle">0.1</text>
<text x="154" y="331.4" text-anchor="middle">0.15</text>
<text x="197.4" y="331.4" text-anchor="middle">0.2</text>
<text x="240.7" y="331.4" text-anchor="middle">0.25</text>
</g>
<text x="148.2" y="339.6" text-anchor="middle" font-family="Liberation Sans, Arial, sans-serif" font-style="italic" font-size="5.1" fill="#555">time[h]</text>
<text transform="translate(9.4 261.2) rotate(-90)" text-anchor="middle" font-family="Liberation Sans, Arial, sans-serif" font-style="italic" font-size="3.9" fill="#555">afl_3</text>
<text x="24.2" y="194.3" font-family="Liberation Sans, Arial, sans-serif" font-weight="bold" font-size="6.45" textLength="99.8" lengthAdjust="spacingAndGlyphs" fill="#111" stroke="#111" stroke-width="0.16">afl_3 (Advanced Failure Indicator)</text>
</g>
<g>
<rect x="295.6" y="198.2" width="248" height="126" fill="#fff" stroke="#ececec" stroke-width="0.4"/>
<clipPath id="c4"><rect x="295.6" y="198.2" width="248" height="126"/></clipPath>
<g clip-path="url(#c4)">
<path d="M310.4 289.4 L311.4 289.4 L312.4 289.5 L313.4 289.5 L314.4 289.6 L315.4 289.6 L316.4 289.6 L317.4 289.7 L318.4 289.7 L319.4 289.8 L320.4 289.8 L321.4 289.9 L322.4 289.9 L323.4 289.9 L324.4 290 L325.4 290.1 L326.4 290.2 L327.4 290.3 L328.4 290.4 L329.4 290.5 L330.4 290.6 L331.4 290.8 L332.4 290.9 L333.4 291 L334.4 291.1 L335.4 291.2 L336.4 291.3 L337.4 291.3 L338.4 291.3 L339.4 291.3 L340.4 291.3 L341.4 291.3 L342.4 291.3 L343.4 291.3 L344.4 291.3 L345.4 291.3 L346.4 291.3 L347.4 291.3 L348.4 291.3 L349.4 291.3 L350.4 291.3 L351.4 291.3 L352.4 291.3 L353.4 291.3 L354.4 291.3 L355.4 291.3 L356.4 291.3 L357.4 291.3 L358.4 291.3 L359.4 291.3 L360.4 291.3 L361.4 291.3 L362.4 291.3 L363.4 291.3 L364.4 291.3 L365.4 291.3 L366.4 291.3 L367.4 291.3 L368.4 291.3 L369.4 291.3 L370.4 291.3 L371.4 291.3 L372.4 291.3 L373.4 291.3 L374.4 291.3 L375.4 291.3 L376.4 291.3 L377.4 291.3 L378.4 291.3 L379.4 291.3 L380.4 291.3 L381.4 291.3 L382.4 291.3 L383.4 291.3 L384.4 291.3 L385.4 291.3 L386.4 291.3 L387.4 291.3 L388.4 291.3 L389.4 291.3 L390.4 291.3 L391.4 291.3 L392.4 291.3 L393.4 291.3 L394.4 291.3 L395.4 291.3 L396.4 291.3 L397.4 291.3 L398.4 291.3 L399.4 291.3 L400.4 291.3 L401.4 291.3 L402.4 291.3 L403.4 291.3 L404.4 291.3 L405.4 291.3 L406.4 291.3 L407.4 291.3 L408.4 291.3 L409.4 291.3 L410.4 291.3 L411.4 291.3 L412.4 291.3 L413.4 291.3 L414.4 291.3 L415.4 291.3 L416.4 291.3 L417.4 291.3 L418.4 291.3 L419.4 291.3 L420.4 291.3 L421.4 291.3 L422.4 291.3 L423.4 291.3 L424.4 291.3 L425.4 291.3 L426.4 291.3 L427.4 291.3 L428.4 291.3 L429.4 291.3 L430.4 291.3 L431.4 291.3 L432.4 291.3 L433.4 291.3 L434.4 291.3 L435.4 291.3 L436.4 291.3 L437.4 291.3 L438.4 291.4 L439.4 291.5 L440.4 291.6 L441.4 291.7 L442.4 291.9 L443.4 292 L444.4 292.1 L445.4 292.2 L446.4 292.3 L447.4 292.4 L448.4 292.6 L449.4 292.7 L450.4 292.8 L451.4 292.9 L452.4 293 L453.4 293.1 L454.4 293.3 L455.4 293.4 L456.4 293.5 L457.4 293.6 L458.4 293.7 L459.4 293.8 L460.4 294 L461.4 294.1 L462.4 294.2 L463.4 294.3 L464.4 294.4 L465.4 294.6 L466.4 294.8 L467.4 294.9 L468.4 295.1 L469.4 295.3 L470.4 295.5 L471.4 295.7 L472.4 295.8 L473.4 295.9 L474.4 295.9 L475.4 296 L476.4 296 L477.4 296.1 L478.4 296.1 L479.4 296.2 L480.4 296.2 L481.4 296.3 L482.4 296.3 L483.4 296.2 L484.4 295.9 L485.4 295.6 L486.4 295.2 L487.4 294.8 L488.4 294.4 L489.4 294 L490.4 293.6 L491.4 293.2 L492.4 292.8 L493.4 292.4 L494.4 292 L495.4 291.7 L496.4 291.5 L497.4 291.4 L498.4 291.2 L499.4 291.1 L500.4 290.9 L501.4 290.9 L502.4 290.8 L503.4 290.8 L504.4 290.7 L505.4 290.7 L506.4 290.7 L507.4 290.9 L508.4 291.1 L509.4 291.4 L510.4 291.7 L511.4 292 L512.4 292.3 L513.4 292.7 L514.4 293.1 L515.4 293.4 L516.4 293.6 L517.4 293.7 L518.4 293.7 L519.4 293.7 L520.4 293.8 L521.4 293.8 L522.4 293.8 L523.4 293.9 L524.4 293.9 L525.4 293.9 L526.4 294 L527.4 294 L528.4 294.1 L529.4 294.1 L530.4 294 L531.4 293.9 L532.4 293.9 L533.4 293.8 L534.4 293.7 L535.4 293.6 L536.4 293.5 L537.4 293.4 L538.4 293.3 L539.4 293.3 L540.4 293.2 L541.4 293.1 L542.4 293 L543.4 292.9 L543.4 307.5 L542.4 307.4 L541.4 307.3 L540.4 307.2 L539.4 307.1 L538.4 307 L537.4 306.9 L536.4 306.8 L535.4 306.7 L534.4 306.6 L533.4 306.5 L532.4 306.4 L531.4 306.3 L530.4 306.2 L529.4 306.1 L528.4 306 L527.4 305.9 L526.4 305.8 L525.4 305.8 L524.4 305.7 L523.4 305.7 L522.4 305.7 L521.4 305.7 L520.4 305.7 L519.4 305.7 L518.4 305.7 L517.4 305.7 L516.4 305.7 L515.4 305.7 L514.4 305.7 L513.4 305.7 L512.4 305.7 L511.4 305.7 L510.4 305.5 L509.4 305.3 L508.4 305.1 L507.4 304.8 L506.4 304.6 L505.4 304.3 L504.4 304.1 L503.4 303.8 L502.4 303.6 L501.4 303.6 L500.4 303.9 L499.4 304.2 L498.4 304.5 L497.4 304.8 L496.4 305.2 L495.4 305.5 L494.4 305.6 L493.4 305.6 L492.4 305.6 L491.4 305.6 L490.4 305.5 L489.4 305.5 L488.4 305.4 L487.4 305.4 L486.4 305.3 L485.4 305.3 L484.4 305.3 L483.4 305.2 L482.4 305 L481.4 304.8 L480.4 304.5 L479.4 304.2 L478.4 304 L477.4 303.8 L476.4 303.5 L475.4 303.2 L474.4 303 L473.4 302.8 L472.4 302.7 L471.4 302.5 L470.4 302.3 L469.4 302.2 L468.4 302 L467.4 301.9 L466.4 301.7 L465.4 301.6 L464.4 301.4 L463.4 301.3 L462.4 301.3 L461.4 301.2 L460.4 301.1 L459.4 301 L458.4 300.9 L457.4 300.8 L456.4 300.7 L455.4 300.6 L454.4 300.5 L453.4 300.4 L452.4 300.3 L451.4 300.2 L450.4 300.1 L449.4 300 L448.4 299.9 L447.4 299.8 L446.4 299.7 L445.4 299.6 L444.4 299.5 L443.4 299.5 L442.4 299.4 L441.4 299.3 L440.4 299.2 L439.4 299.1 L438.4 299 L437.4 298.9 L436.4 298.8 L435.4 298.7 L434.4 298.6 L433.4 298.5 L432.4 298.4 L431.4 298.3 L430.4 298.2 L429.4 298.1 L428.4 298 L427.4 297.9 L426.4 297.9 L425.4 297.8 L424.4 297.8 L423.4 297.8 L422.4 297.8 L421.4 297.8 L420.4 297.8 L419.4 297.8 L418.4 297.8 L417.4 297.8 L416.4 297.8 L415.4 297.8 L414.4 297.9 L413.4 297.9 L412.4 297.9 L411.4 297.9 L410.4 297.9 L409.4 297.9 L408.4 297.9 L407.4 297.9 L406.4 297.9 L405.4 297.9 L404.4 297.9 L403.4 297.9 L402.4 297.9 L401.4 297.9 L400.4 297.9 L399.4 297.9 L398.4 297.9 L397.4 297.9 L396.4 297.9 L395.4 297.9 L394.4 297.9 L393.4 297.9 L392.4 297.9 L391.4 298 L390.4 298 L389.4 298 L388.4 298 L387.4 298 L386.4 298 L385.4 298 L384.4 298 L383.4 298 L382.4 298 L381.4 298 L380.4 298 L379.4 298 L378.4 298 L377.4 298 L376.4 298 L375.4 298 L374.4 298 L373.4 298 L372.4 298 L371.4 298 L370.4 298 L369.4 298.1 L368.4 298.1 L367.4 298.1 L366.4 298.1 L365.4 298.1 L364.4 298.1 L363.4 298.1 L362.4 298.1 L361.4 298.1 L360.4 298.1 L359.4 298.1 L358.4 298.1 L357.4 298.1 L356.4 298.1 L355.4 298.1 L354.4 298.1 L353.4 298.1 L352.4 298.1 L351.4 298.1 L350.4 298.1 L349.4 298.1 L348.4 298.1 L347.4 298.1 L346.4 298.2 L345.4 298.2 L344.4 298.2 L343.4 298.2 L342.4 298.2 L341.4 298.2 L340.4 298.2 L339.4 298.2 L338.4 298.2 L337.4 298.2 L336.4 298.2 L335.4 298.2 L334.4 298.2 L333.4 298.1 L332.4 298.1 L331.4 298.1 L330.4 298.1 L329.4 298 L328.4 298 L327.4 298 L326.4 298 L325.4 298 L324.4 297.9 L323.4 297.9 L322.4 297.9 L321.4 297.9 L320.4 297.8 L319.4 297.8 L318.4 297.8 L317.4 297.8 L316.4 297.7 L315.4 297.7 L314.4 297.7 L313.4 297.7 L312.4 297.6 L311.4 297.6 L310.4 297.6Z" fill="#dff0e4"/>
<line x1="295.6" x2="543.6" y1="313.7" y2="313.7" stroke="#9c9ce2" stroke-width="0.85"/>
<line x1="541.3" x2="541.3" y1="208.1" y2="313.7" stroke="#8ad4f5" stroke-width="1.6"/>
<path d="M295.6 291.1 L297.1 291.6 L298.5 291.3 L299.9 292 L301.4 293.2 L302.8 293.6 L304.3 294.2 L305.7 293.9 L307.2 294 L308.6 293.2 L310.1 292.4 L311.5 294 L313 293.1 L314.4 292.4 L315.9 286.6 L317.3 292.9 L318.8 292.6 L320.2 291.2 L321.7 292.1 L323.1 291.9 L324.6 290.7 L326 292.1 L327.5 294.2 L328.9 294.6 L330.4 292.5 L331.8 294.3 L333.3 295.2 L334.7 293.9 L336.2 295 L337.6 294.6 L339.1 296.3 L340.5 295.3 L342 295.8 L343.4 296.3 L344.9 294.8 L346.3 292.5 L347.8 293.2 L349.2 293.1 L350.7 294.7 L352.1 294.6 L353.6 295.1 L355 294.8 L356.5 295.3 L357.9 295 L359.4 295 L360.8 294.3 L362.3 294.5 L363.7 295.3 L365.2 293.7 L366.6 293.4 L368.1 293.1 L369.5 293.1 L371 293.7 L372.4 295.9 L373.9 294.2 L375.3 294.8 L376.8 294.2 L378.2 293.8 L379.7 293.3 L381.1 294.4 L382.6 296.1 L384 294.3 L385.5 294.7 L386.9 296.3 L388.4 294.8 L389.8 294.2 L391.3 295.4 L392.7 295.1 L394.2 294.5 L395.6 294.9 L397.1 295.5 L398.5 295.6 L400 295.3 L401.4 295.5 L402.9 293.7 L404.3 295.4 L405.8 294.3 L407.2 294 L408.7 294.1 L410.1 295.5 L411.6 295.1 L413 294.6 L414.5 294.9 L415.9 293.4 L417.4 294 L418.8 296 L420.3 294.2 L421.7 293.4 L423.2 294.7 L424.6 293.4 L426.1 293.5 L427.5 295.1 L429 295.6 L430.4 295.8 L431.9 295.6 L433.3 294.7 L434.8 296.4 L436.2 295.3 L437.7 295.7 L439.1 296.5 L440.6 297.4 L442 296.9 L443.5 296 L444.9 296.8 L446.4 294.9 L447.8 296.1 L449.3 296.6 L450.7 297.9 L452.2 297.4 L453.6 296 L455.1 297.3 L456.5 297.9 L458 297.1 L459.4 296.9 L460.9 298.8 L462.3 299 L463.8 298.2 L465.2 298.7 L466.7 298.4 L468.1 299 L469.6 299.1 L471 299.1 L473 298.8 L474.2 300 L475.5 301.1 L476.8 302.8 L478 302.7 L479.2 300.3 L480.5 300.1 L481.8 299.9 L483 300 L484.2 299.4 L485.5 299 L486.8 298.8 L488 298.6 L489.2 297.4 L490.5 297.6 L491.8 297.2 L493 297.2 L494.2 296.1 L495.5 296.6 L496.8 296.2 L498 296.6 L499.2 297 L500.5 297.4 L501.8 297.9 L503 299.2 L504.2 299.1 L505.5 299.8 L506.8 300.5 L508 300.9 L509.2 301.1 L510.5 301.3 L511.8 300.3 L513 299.4 L514.2 299.6 L515.5 298.7 L516.8 299.3 L518 298.8 L519.2 297.9 L520.5 298 L521.8 298.5 L523 299.2 L524.2 299.8 L525.5 300.3 L526.8 302 L528 301.7 L529.2 300.4 L530.5 300.3 L531.8 299.7 L533 300.3 L534.2 299.7 L535.5 298.4 L536.8 298.5 L538 297.3 L539.2 296.8 L540.5 294 L541.8 291.2 L543 294.7" fill="none" stroke="#3c9fd0" stroke-width="1.15" stroke-linejoin="round"/>
</g>
<line x1="472.7" x2="472.7" y1="198" y2="325.2" stroke="#ff1a1a" stroke-width="1.5" stroke-dasharray="2.4 2.2"/>
<g fill="none">
<path d="M295.6 198.2V324.2" stroke="#a0a0a0" stroke-width="0.5"/>
<path d="M295.3 324.2H543.6" stroke="#6a6a6a" stroke-width="0.7"/>
<path d="M293.4 313.7H296.3M293.4 292.6H296.3M293.4 271.5H296.3M293.4 250.3H296.3M293.4 229.2H296.3M293.4 208.1H296.3M338.9 323.5V326.3M382.3 323.5V326.3M425.6 323.5V326.3M469 323.5V326.3M512.3 323.5V326.3" stroke="#333" stroke-width="0.8"/>
<path d="M294.4 322.1H295.8M294.4 317.9H295.8M294.4 309.5H295.8M294.4 305.3H295.8M294.4 301H295.8M294.4 296.8H295.8M294.4 288.4H295.8M294.4 284.1H295.8M294.4 279.9H295.8M294.4 275.7H295.8M294.4 267.2H295.8M294.4 263H295.8M294.4 258.8H295.8M294.4 254.6H295.8M294.4 246.1H295.8M294.4 241.9H295.8M294.4 237.7H295.8M294.4 233.4H295.8M294.4 225H295.8M294.4 220.8H295.8M294.4 216.5H295.8M294.4 212.3H295.8M294.4 203.9H295.8M294.4 199.7H295.8M304.3 324V325.5M312.9 324V325.5M321.6 324V325.5M330.3 324V325.5M347.6 324V325.5M356.3 324V325.5M364.9 324V325.5M373.6 324V325.5M390.9 324V325.5M399.6 324V325.5M408.3 324V325.5M417 324V325.5M434.3 324V325.5M443 324V325.5M451.6 324V325.5M460.3 324V325.5M477.6 324V325.5M486.3 324V325.5M495 324V325.5M503.6 324V325.5M521 324V325.5M529.6 324V325.5M538.3 324V325.5" stroke="#333" stroke-width="0.7"/>
</g>
<g font-family="Liberation Sans, Arial, sans-serif" font-size="4.1" fill="#333">
<text x="291.1" y="315.1" text-anchor="end">0</text>
<text x="291.1" y="294" text-anchor="end">0.2</text>
<text x="291.1" y="272.9" text-anchor="end">0.4</text>
<text x="291.1" y="251.8" text-anchor="end">0.6</text>
<text x="291.1" y="230.7" text-anchor="end">0.8</text>
<text x="291.1" y="209.5" text-anchor="end">1</text>
<text x="338.9" y="331.4" text-anchor="middle">0.05</text>
<text x="382.3" y="331.4" text-anchor="middle">0.1</text>
<text x="425.6" y="331.4" text-anchor="middle">0.15</text>
<text x="469" y="331.4" text-anchor="middle">0.2</text>
<text x="512.3" y="331.4" text-anchor="middle">0.25</text>
</g>
<text x="419.6" y="339.6" text-anchor="middle" font-family="Liberation Sans, Arial, sans-serif" font-style="italic" font-size="5.1" fill="#555">time[h]</text>
<text transform="translate(281 261.2) rotate(-90)" text-anchor="middle" font-family="Liberation Sans, Arial, sans-serif" font-style="italic" font-size="3.9" fill="#555">afl_4</text>
<text x="295.8" y="194.3" font-family="Liberation Sans, Arial, sans-serif" font-weight="bold" font-size="6.45" textLength="99.8" lengthAdjust="spacingAndGlyphs" fill="#111" stroke="#111" stroke-width="0.16">afl_4 (Advanced Failure Indicator)</text>
</g>
</svg>
</body></html>
